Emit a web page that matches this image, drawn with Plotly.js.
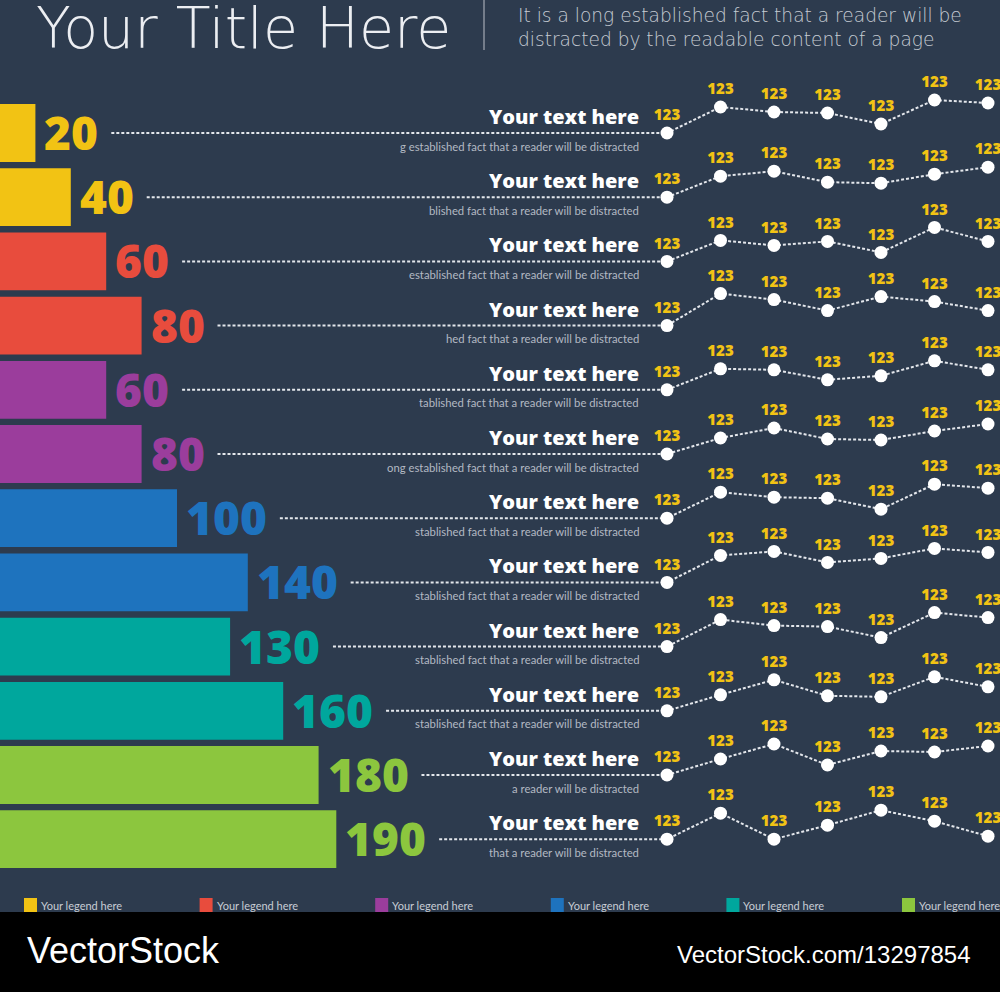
<!DOCTYPE html>
<html>
<head>
<meta charset="utf-8">
<script src="https://cdn.plot.ly/plotly-3.0.1.min.js"></script>
<style>
  html, body { margin: 0; padding: 0; background: #2d3b4e; }
  #chart { width: 1000px; height: 992px; }
</style>
</head>
<body>
<div id="chart"></div>
<script>
/* ── Data ─────────────────────────────────────────────────── */
const rowValues = [20, 40, 60, 80, 60, 80, 100, 140, 130, 160, 180, 190];
const rowColors = ['#f2c314', '#f2c314', '#e84c3d', '#e84c3d', '#9b3d9c', '#9b3d9c',
                   '#1e73be', '#1e73be', '#00a79d', '#00a79d', '#8cc63e', '#8cc63e'];
const rowTitles = ['Your text here', 'Your text here', 'Your text here', 'Your text here',
                   'Your text here', 'Your text here', 'Your text here', 'Your text here',
                   'Your text here', 'Your text here', 'Your text here', 'Your text here'];
const rowNotes = [
  'g established fact that a reader will be distracted',
  'blished fact that a reader will be distracted',
  'established fact that a reader will be distracted',
  'hed fact that a reader will be distracted',
  'tablished fact that a reader will be distracted',
  'ong established fact that a reader will be distracted',
  'stablished fact that a reader will be distracted',
  'stablished fact that a reader will be distracted',
  'stablished fact that a reader will be distracted',
  'stablished fact that a reader will be distracted',
  'a reader will be distracted',
  'that a reader will be distracted'
];
// small trend per row, 7 steps (rise above the row baseline)
const trendSteps = [0, 1, 2, 3, 4, 5, 6];
const trend = [
  [0, 26, 21, 20, 9, 33, 30],
  [0, 21, 26, 15, 14, 23, 30],
  [0, 21, 16, 20, 9, 34, 20],
  [0, 32, 26, 15, 29, 24, 15],
  [0, 21, 20, 10, 14, 29, 20],
  [0, 16, 26, 15, 14, 23, 30],
  [0, 26, 21, 20, 9, 34, 30],
  [0, 27, 31, 20, 24, 34, 30],
  [0, 27, 21, 20, 9, 34, 29],
  [0, 16, 31, 15, 14, 34, 24],
  [0, 16, 31, 10, 24, 23, 29],
  [0, 26, 0, 14, 29, 18, 3]
];
const pointLabel = '123';
const legendNames = ['Your legend here', 'Your legend here', 'Your legend here',
                     'Your legend here', 'Your legend here', 'Your legend here'];
const legendColors = ['#f2c314', '#e84c3d', '#9b3d9c', '#1e73be', '#00a79d', '#8cc63e'];

/* ── Layout constants (px) ───────────────────────────────── */
const W = 1000, H = 992;
const BG = '#2d3b4e';
const ROW0 = 133, ROW_STEP = 64.2;      // first row centre, row pitch
const BAR_PX = 1.77;                    // px per bar unit
const LINE_X0 = 667, LINE_STEP = 53.5;  // first trend point, step between points
const VALUE_FONT = { family: 'Open Sans', weight: 800, size: 46 };
const DOTS = { color: '#e4e7ec', width: 2, dash: '3px,2px' };

const py = px => 1 - px / H;            // px from top -> paper y
const toX2 = px => (px - LINE_X0) / LINE_STEP;

/* ── Measure value labels so the leader starts after them ── */
const ctx = document.createElement('canvas').getContext('2d');
ctx.font = `${VALUE_FONT.weight} ${VALUE_FONT.size}px "${VALUE_FONT.family}"`;

const rowIdx = rowValues.map((_, i) => i);
const traces = [];

traces.push({
  type: 'bar', orientation: 'h',
  x: rowValues, y: rowIdx,
  width: 0.9,
  marker: { color: rowColors, line: { width: 0 } },
  xaxis: 'x', yaxis: 'y',
  hoverinfo: 'skip'
});

trend.forEach((row, i) => {
  const labelPx = rowValues[i] * BAR_PX + 8 + ctx.measureText(String(rowValues[i])).width + 14;
  const ys = row.map(r => i - r / ROW_STEP);
  // dotted leader + trend line
  traces.push({
    type: 'scatter', mode: 'lines',
    x: [toX2(labelPx)].concat(trendSteps),
    y: [i].concat(ys),
    line: DOTS,
    xaxis: 'x2', yaxis: 'y',
    hoverinfo: 'skip'
  });
  // points with their labels
  traces.push({
    type: 'scatter', mode: 'markers+text',
    x: trendSteps, y: ys,
    marker: { color: '#ffffff', size: 13, opacity: 1, line: { width: 0 } },
    text: row.map(() => pointLabel),
    textposition: 'top center',
    textfont: { family: 'Open Sans', weight: 800, size: 15, color: '#f2c314' },
    cliponaxis: false,
    xaxis: 'x2', yaxis: 'y',
    hoverinfo: 'skip'
  });
});

/* ── Annotations ─────────────────────────────────────────── */
const annotations = [];

annotations.push({
  xref: 'paper', yref: 'paper', x: 34 / W, y: py(28),
  xanchor: 'left', yanchor: 'middle', showarrow: false,
  text: 'Your Title Here',
  font: { family: 'DejaVu Sans', weight: 200, size: 57, color: '#eceef2' }
});
annotations.push({
  xref: 'paper', yref: 'paper', x: 516 / W, y: py(27),
  xanchor: 'left', yanchor: 'middle', showarrow: false, align: 'left',
  text: 'It is a long established fact that a reader will be<br>distracted by the readable content of a page',
  font: { family: 'DejaVu Sans', weight: 200, size: 18.6, color: '#c6cbd3' }
});

rowValues.forEach((v, i) => {
  annotations.push({
    xref: 'x', yref: 'y', x: v, y: i, xshift: 7, yshift: 1,
    xanchor: 'left', yanchor: 'middle', showarrow: false,
    text: String(v),
    font: Object.assign({ color: rowColors[i] }, VALUE_FONT)
  });
  annotations.push({
    xref: 'paper', yref: 'y', x: 641 / W, y: i, yshift: 16.5,
    xanchor: 'right', yanchor: 'middle', showarrow: false,
    text: rowTitles[i],
    font: { family: 'Open Sans', weight: 800, size: 20, color: '#ffffff' }
  });
  annotations.push({
    xref: 'paper', yref: 'y', x: 641 / W, y: i, yshift: -13,
    xanchor: 'right', yanchor: 'middle', showarrow: false,
    text: rowNotes[i],
    font: { family: 'Lato', weight: 400, size: 11.3, color: '#b3b9c3' }
  });
});

/* ── Legend + footer band ────────────────────────────────── */
const shapes = [{
  type: 'line', xref: 'paper', yref: 'paper',
  x0: 484 / W, x1: 484 / W, y0: py(50), y1: 1,
  line: { color: '#8c94a0', width: 1.5 }
}];

legendNames.forEach((name, j) => {
  const left = 24 + j * 175.6;
  shapes.push({
    type: 'rect', xref: 'paper', yref: 'paper', layer: 'above',
    x0: left / W, x1: (left + 13) / W, y0: py(912), y1: py(898),
    fillcolor: legendColors[j], line: { width: 0 }
  });
  annotations.push({
    xref: 'paper', yref: 'paper', x: (left + 15) / W, y: py(905),
    xanchor: 'left', yanchor: 'middle', showarrow: false,
    text: name,
    font: { family: 'Lato', weight: 400, size: 11, color: '#c8cdd5' }
  });
});

shapes.push({
  type: 'rect', xref: 'paper', yref: 'paper', layer: 'above',
  x0: 0, x1: 1, y0: 0, y1: py(912),
  fillcolor: '#000000', line: { width: 0 }
});

annotations.push({
  xref: 'paper', yref: 'paper', x: 25 / W, y: py(950.5),
  xanchor: 'left', yanchor: 'middle', showarrow: false,
  text: 'VectorStock',
  font: { family: 'Liberation Sans', size: 36, color: '#ffffff' }
});
annotations.push({
  xref: 'paper', yref: 'paper', x: 973 / W, y: py(954.5),
  xanchor: 'right', yanchor: 'middle', showarrow: false,
  text: 'VectorStock.com/13297854',
  font: { family: 'Liberation Sans', size: 24, color: '#ffffff' }
});

const layout = {
  width: W, height: H,
  margin: { l: 0, r: 0, t: 0, b: 0 },
  paper_bgcolor: BG, plot_bgcolor: BG,
  showlegend: false,
  xaxis: { range: [0, W / BAR_PX], visible: false, fixedrange: true },
  xaxis2: { range: [toX2(0), toX2(W)], overlaying: 'x', visible: false, fixedrange: true },
  yaxis: { range: [(H - ROW0) / ROW_STEP, -ROW0 / ROW_STEP], visible: false, fixedrange: true },
  shapes: shapes,
  annotations: annotations
};

Plotly.newPlot('chart', traces, layout, { staticPlot: true, displayModeBar: false });
</script>
</body>
</html>
